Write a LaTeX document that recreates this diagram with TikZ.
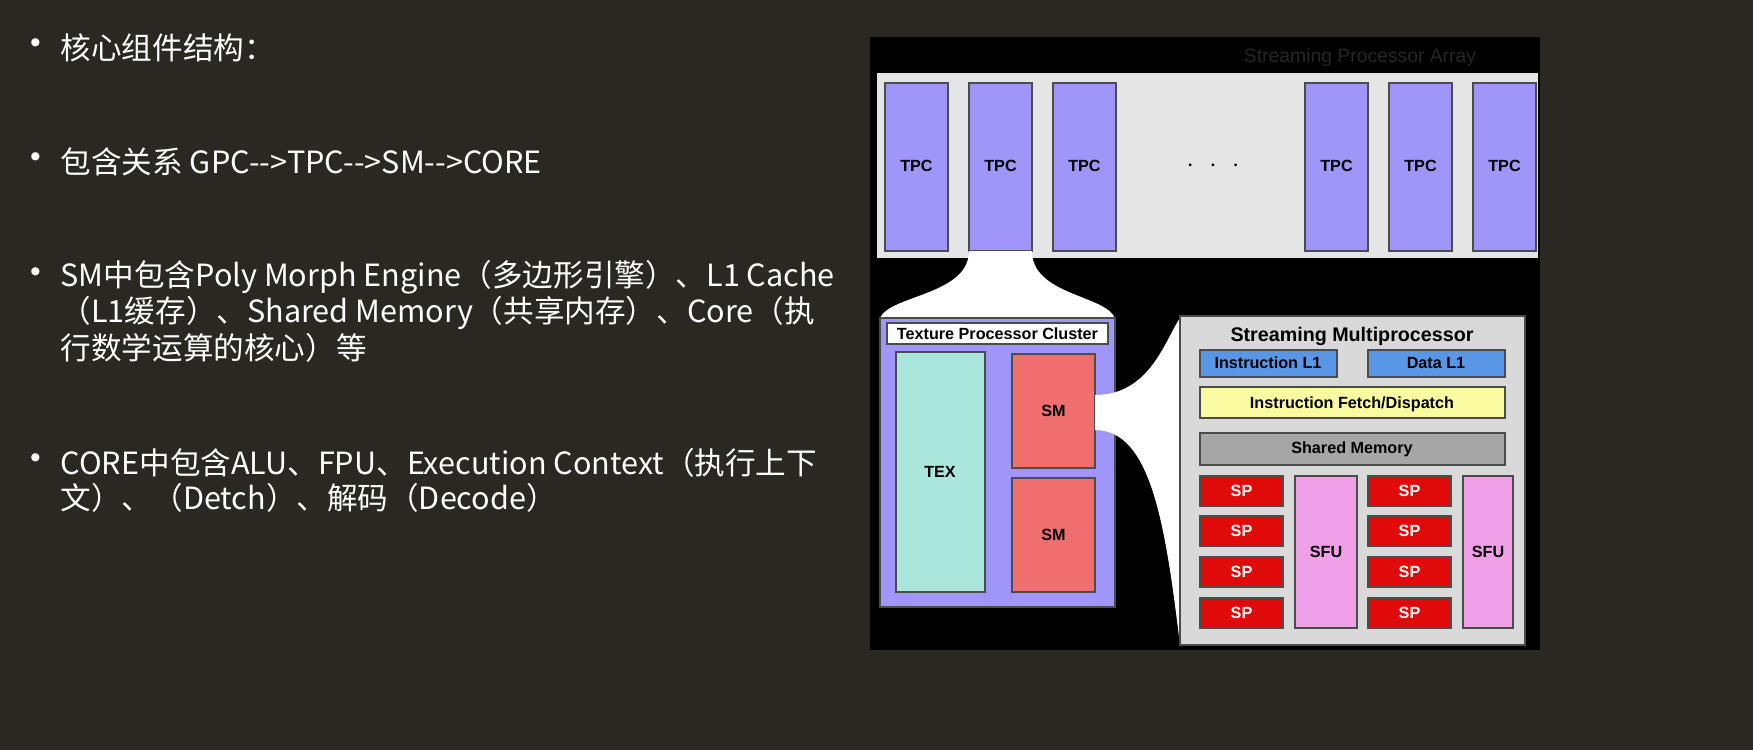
\documentclass[tikz,border=0pt]{standalone}
\usepackage{fontspec}
\setmainfont{Liberation Sans}
\newfontfamily\cjk{Noto Sans CJK SC}
\begin{document}
\begin{tikzpicture}[x=0.01cm,y=-0.01cm]
\definecolor{bgc}{RGB}{43,39,34}
\definecolor{tpcc}{RGB}{160,150,250}
\definecolor{smred}{RGB}{240,110,110}
\definecolor{texc}{RGB}{170,230,220}
\definecolor{blu}{RGB}{90,150,230}
\definecolor{yel}{RGB}{250,250,160}
\definecolor{sfuc}{RGB}{240,160,230}
\definecolor{spc}{RGB}{225,10,10}
\tikzset{
 bul/.style={anchor=west,text=white,font=\cjk\fontsize{8.7}{10}\selectfont,inner sep=0},
 box/.style={draw=black!70,line width=0.4pt},
 lab/.style={font=\bfseries\fontsize{4.6}{5}\selectfont,inner sep=0}
}
\fill[bgc] (0,0) rectangle (1753,750);
\useasboundingbox (0,0) rectangle (1753,750);
% left text
\foreach \yy in {48,162,277,463}{\node[text=white,font=\cjk\fontsize{11}{11}\selectfont,inner sep=0] (b\yy) at (36,\yy) {•};}
\node[bul] (t1) at (60,48) {核心组件结构：};
\node[bul] (t2) at (60,162) {包含关系 GPC-->TPC-->SM-->CORE};
\node[bul] (t3a) at (60,277) {SM中包含Poly Morph Engine（多边形引擎）、L1 Cache};
\node[bul] (t3b) at (60,313) {（L1缓存）、Shared Memory（共享内存）、Core（执};
\node[bul] (t3c) at (60,348) {行数学运算的核心）等};
\node[bul] (t4a) at (60,463) {CORE中包含ALU、FPU、Execution Context（执行上下};
\node[bul] (t4b) at (60,498) {文）、（Detch）、解码（Decode）};
% diagram
\fill[black] (870,37) rectangle (1540,650);
\node[font=\fontsize{5.5}{6}\selectfont,text=black!85] (ttl) at (1360,57) {Streaming Processor Array};
\fill[black!10] (877,73) rectangle (1538,258);
\foreach \x/\n in {885/1,969/2,1053/3,1305/4,1389/5,1473/6}{
 \draw[box,fill=tpcc] (\x,83) rectangle ++(63,168);
 \node[lab] (tpc\n) at (\x+31.5,166) {TPC};}
\node[font=\fontsize{7}{8}\selectfont] (dots) at (1213,166) {$\cdot\;\cdot\;\cdot$};
% funnel 1
\fill[white] (969,251) .. controls (969,295) and (890,295) .. (880,318) -- (1115,318) .. controls (1105,295) and (1032,295) .. (1032,251) -- cycle;
\draw[box,fill=tpcc] (880,318) rectangle (1115,607);
\draw[box,fill=white] (887,323) rectangle (1108,344);
\node[lab] (tpcl) at (997.5,334) {Texture Processor Cluster};
\draw[box,fill=texc] (896,352) rectangle (985,592);
\node[lab] (tex) at (940,472) {TEX};
\draw[box,fill=smred] (1012,354) rectangle (1095,468);
\node[lab] (sm1) at (1053.5,411) {SM};
\draw[box,fill=smred] (1012,478) rectangle (1095,592);
\node[lab] (sm2) at (1053.5,535) {SM};
% funnel 2
\fill[white] (1095,395) .. controls (1150,395) and (1165,340) .. (1180,318) -- (1180,645) .. controls (1165,520) and (1150,430) .. (1095,430) -- cycle;
\draw[box,fill=black!15] (1180,316) rectangle (1525,645);
\node[font=\bfseries\fontsize{5.6}{6}\selectfont] (smt) at (1352,336) {Streaming Multiprocessor};
\draw[box,fill=blu] (1200,350) rectangle (1337,377);
\node[lab] (il1) at (1268,363) {Instruction L1};
\draw[box,fill=blu] (1368,350) rectangle (1505,377);
\node[lab] (dl1) at (1436,363) {Data L1};
\draw[box,fill=yel] (1200,387) rectangle (1505,418);
\node[lab] (ifd) at (1352,404) {Instruction Fetch/Dispatch};
\draw[box,fill=black!35] (1200,433) rectangle (1505,465);
\node[lab] (shm) at (1352,449) {Shared Memory};
\foreach \x/\c in {1200/a,1368/b}{
 \foreach \y/\k in {476/1,516/2,557/3,598/4}{
  \draw[box,fill=spc] (\x,\y) rectangle ++(83,30);
  \node[lab,text=white] (sp\c\k) at (\x+41.5,\y+15) {SP};}}
\draw[box,fill=sfuc] (1295,476) rectangle (1357,628);
\node[lab] (sfu1) at (1326,552) {SFU};
\draw[box,fill=sfuc] (1463,476) rectangle (1513,628);
\node[lab] (sfu2) at (1488,552) {SFU};
\end{tikzpicture}
\end{document}
